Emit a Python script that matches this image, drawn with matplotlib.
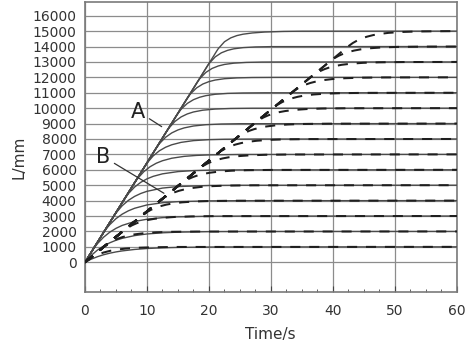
import matplotlib
matplotlib.use("Agg")
import matplotlib.pyplot as plt
import numpy as np
from matplotlib.ticker import MultipleLocator

plt.rcParams['font.family'] = ['DejaVu Sans']

# curve A (solid): (time s, length mm), one list per target length
solid_1000 = [(0, 0), (1, 199), (2, 359), (3, 487), (4, 589), (5, 671), (6, 736), (8, 831), (10, 892),
              (12.5, 938), (15, 964), (20, 988), (25, 996), (60, 1000)]
solid_2000 = [(0, 0), (1, 442), (2, 787), (3, 1055), (4, 1264), (5, 1427), (6, 1554), (8, 1729), (10, 1836),
              (12.5, 1912), (15, 1953), (20, 1987), (25, 1996), (60, 2000)]
solid_3000 = [(0, 0), (0.95, 613), (1.5, 943), (2, 1203), (3, 1628), (4, 1952), (5, 2201), (6, 2391),
              (8, 2645), (10, 2793), (12.5, 2895), (15, 2947), (20, 2986), (25, 2996), (60, 3000)]
solid_4000 = [(0, 0), (2.7, 1742), (3.5, 2203), (4, 2442), (5, 2830), (6, 3121), (7, 3339), (8, 3503),
              (10, 3720), (12.5, 3863), (15, 3933), (20, 3984), (25, 3996), (60, 4000)]
solid_5000 = [(0, 0), (4.45, 2871), (5, 3199), (6, 3669), (7, 4017), (8, 4274), (9, 4464), (10, 4604),
              (12.5, 4814), (15, 4913), (20, 4981), (25, 4996), (60, 5000)]
solid_6000 = [(0, 0), (6.2, 4000), (7, 4455), (8, 4881), (9, 5189), (10, 5413), (11, 5575), (12.5, 5738),
              (15, 5883), (17.5, 5948), (20, 5977), (25, 5995), (60, 6000)]
solid_7000 = [(0, 0), (7.85, 5065), (8.5, 5442), (9.5, 5883), (10.5, 6200), (11.5, 6427), (12.5, 6589),
              (14, 6751), (16, 6872), (18, 6934), (20, 6966), (25, 6994), (60, 7000)]
solid_8000 = [(0, 0), (9.6, 6194), (10, 6434), (11, 6904), (12, 7234), (13, 7464), (14, 7625), (15.5, 7780),
              (17.5, 7893), (20, 7956), (22.5, 7982), (27.5, 7997), (60, 8000)]
solid_9000 = [(0, 0), (11.35, 7323), (12, 7694), (13, 8111), (14, 8395), (15, 8588), (16, 8719),
              (17.5, 8842), (19.5, 8927), (22, 8972), (25, 8991), (60, 9000)]
solid_10000 = [(0, 0), (13.1, 8452), (13.5, 8690), (14.5, 9136), (15.5, 9431), (16.5, 9625), (17.5, 9753),
               (19, 9868), (21, 9942), (23.5, 9980), (27, 9995), (60, 10000)]
solid_11000 = [(0, 0), (14.75, 9516), (15.5, 9929), (16.5, 10307), (17.5, 10551), (18.5, 10709),
               (19.5, 10812), (21, 10902), (23, 10959), (25.5, 10986), (29, 10997), (60, 11000)]
solid_12000 = [(0, 0), (16.4, 10581), (17, 10920), (18, 11314), (19, 11565), (20, 11724), (21, 11825),
               (22.5, 11911), (24.5, 11964), (27, 11989), (31, 11998), (60, 12000)]
solid_13000 = [(0, 0), (18.05, 11645), (18.5, 11906), (19.5, 12321), (20.5, 12578), (21.5, 12738),
               (22.5, 12837), (24, 12920), (26, 12969), (28.5, 12991), (32, 12998), (60, 13000)]
solid_14000 = [(0, 0), (19.7, 12710), (20, 12890), (21, 13327), (22, 13592), (23, 13752), (24, 13850),
               (25.5, 13929), (27.5, 13974), (30, 13993), (60, 14000)]
solid_15000 = [(0, 0), (21.25, 13710), (21.5, 13862), (22.5, 14310), (23.5, 14560), (24.5, 14710),
               (25.5, 14800), (27, 14880), (29, 14940), (32, 14980), (35, 14995), (60, 15000)]

# curve B (dashed)
dash_1000 = [(0, 0), (0.75, 221), (1.5, 393), (2.25, 528), (3, 632), (4, 736), (5, 811), (6.5, 885),
             (8.5, 941), (11, 974), (15, 993), (60, 1000)]
dash_2000 = [(0, 0), (3.06, 1010), (3.81, 1229), (4.56, 1399), (5.31, 1533), (6.06, 1636), (7.06, 1739),
             (8.06, 1813), (9.56, 1886), (11.56, 1942), (14.06, 1975), (18.06, 1993), (60, 2000)]
dash_3000 = [(0, 0), (6.09, 2010), (6.84, 2229), (7.59, 2399), (8.34, 2533), (9.09, 2636), (10.09, 2739),
             (11.09, 2813), (12.59, 2886), (14.59, 2942), (17.09, 2975), (21.09, 2993), (60, 3000)]
dash_4000 = [(0, 0), (9.12, 3010), (9.87, 3229), (10.62, 3399), (11.37, 3533), (12.12, 3636), (13.12, 3739),
             (14.12, 3813), (15.62, 3886), (17.62, 3942), (20.12, 3975), (24.12, 3993), (60, 4000)]
dash_5000 = [(0, 0), (12.15, 4010), (12.9, 4229), (13.65, 4399), (14.4, 4533), (15.15, 4636), (16.15, 4739),
             (17.15, 4813), (18.65, 4886), (20.65, 4942), (23.15, 4975), (27.15, 4993), (60, 5000)]
dash_6000 = [(0, 0), (15.18, 5010), (15.93, 5229), (16.68, 5399), (17.43, 5533), (18.18, 5636), (19.18, 5739),
             (20.18, 5813), (21.68, 5886), (23.68, 5942), (26.18, 5975), (30.18, 5993), (60, 6000)]
dash_7000 = [(0, 0), (18.21, 6010), (18.96, 6229), (19.71, 6399), (20.46, 6533), (21.21, 6636), (22.21, 6739),
             (23.21, 6813), (24.71, 6886), (26.71, 6942), (29.21, 6975), (33.21, 6993), (60, 7000)]
dash_8000 = [(0, 0), (21.24, 7010), (21.99, 7229), (22.74, 7399), (23.49, 7533), (24.24, 7636), (25.24, 7739),
             (26.24, 7813), (27.74, 7886), (29.74, 7942), (32.24, 7975), (36.24, 7993), (60, 8000)]
dash_9000 = [(0, 0), (24.27, 8010), (25.02, 8229), (25.77, 8399), (26.52, 8533), (27.27, 8636), (28.27, 8739),
             (29.27, 8813), (30.77, 8886), (32.77, 8942), (35.27, 8975), (39.27, 8993), (60, 9000)]
dash_10000 = [(0, 0), (27.3, 9010), (28.05, 9229), (28.8, 9399), (29.55, 9533), (30.3, 9636), (31.3, 9739),
              (32.3, 9813), (33.8, 9886), (35.8, 9942), (38.3, 9975), (42.3, 9993), (60, 10000)]
dash_11000 = [(0, 0), (30.33, 10010), (31.08, 10229), (31.83, 10399), (32.58, 10533), (33.33, 10636),
              (34.33, 10739), (35.33, 10813), (36.83, 10886), (38.83, 10942), (41.33, 10975), (45.33, 10993),
              (60, 11000)]
dash_12000 = [(0, 0), (33.36, 11010), (34.11, 11229), (34.86, 11399), (35.61, 11533), (36.36, 11636),
              (37.36, 11739), (38.36, 11813), (39.86, 11886), (41.86, 11942), (44.36, 11975), (48.36, 11993),
              (60, 12000)]
dash_13000 = [(0, 0), (36.39, 12010), (37.14, 12229), (37.89, 12399), (38.64, 12533), (39.39, 12636),
              (40.39, 12739), (41.39, 12813), (42.89, 12886), (44.89, 12942), (47.39, 12975), (51.39, 12993),
              (60, 13000)]
dash_14000 = [(0, 0), (39.42, 13010), (40.17, 13229), (40.92, 13399), (41.67, 13533), (42.42, 13636),
              (43.42, 13739), (44.42, 13813), (45.92, 13886), (47.92, 13942), (50.42, 13975), (54.42, 13993),
              (60, 14000)]
dash_15000 = [(0, 0), (42.45, 14010), (43.2, 14229), (43.95, 14399), (44.7, 14533), (45.45, 14636),
              (46.45, 14739), (47.45, 14813), (48.95, 14886), (50.95, 14942), (53.45, 14975), (57.45, 14993),
              (60, 15000)]

solid_curves = [solid_1000, solid_2000, solid_3000, solid_4000, solid_5000, solid_6000, solid_7000,
                solid_8000, solid_9000, solid_10000, solid_11000, solid_12000, solid_13000, solid_14000,
                solid_15000]
dashed_curves = [dash_1000, dash_2000, dash_3000, dash_4000, dash_5000, dash_6000, dash_7000, dash_8000,
                 dash_9000, dash_10000, dash_11000, dash_12000, dash_13000, dash_14000, dash_15000]

x_ticks = [0, 10, 20, 30, 40, 50, 60]
y_ticks = list(range(0, 16001, 1000))

fig = plt.figure(figsize=(4.74, 3.43), dpi=100)
ax = fig.add_axes([0.1793, 0.1487, 0.7848, 0.8464])

for pts in solid_curves:
    arr = np.array(pts)
    ax.plot(arr[:, 0], arr[:, 1], color="#4a4a4a", lw=1.0, zorder=3)

for pts in dashed_curves:
    arr = np.array(pts)
    ax.plot(arr[:, 0], arr[:, 1], color="#1e1e1e", lw=1.45, dashes=(5.0, 4.4), zorder=4)

ax.set_xlim(0, 60)
ax.set_ylim(-1930, 16910)
ax.set_xticks(x_ticks)
ax.set_yticks(y_ticks)
ax.xaxis.set_minor_locator(MultipleLocator(2.5))
ax.grid(True, which="major", color="#8c8c8c", lw=0.9, zorder=1)

ax.tick_params(axis="x", which="major", direction="in", length=4, color="#444444",
               labelsize=10, labelcolor="#333333", pad=9)
ax.tick_params(axis="x", which="minor", direction="in", length=2.5, color="#444444")
ax.tick_params(axis="y", which="major", direction="in", length=0, labelsize=10,
               labelcolor="#333333", pad=6)

for s in ax.spines.values():
    s.set_color("#7a7a7a")
    s.set_linewidth(1.2)

ax.set_xlabel("Time/s", fontsize=11, color="#333333")
ax.xaxis.set_label_coords(0.497, -0.12)
ax.set_ylabel("L/mm", fontsize=11, color="#333333")
ax.yaxis.set_label_coords(-0.158, 0.465)

ax.annotate("A", xy=(12.37, 8800), xytext=(8.6, 9773), fontsize=15, color="#222222",
            ha="center", va="center",
            arrowprops=dict(arrowstyle="-", color="#333333", lw=0.9, shrinkA=1, shrinkB=0))
ax.annotate("B", xy=(12.73, 4478), xytext=(2.95, 6853), fontsize=15, color="#222222",
            ha="center", va="center",
            arrowprops=dict(arrowstyle="-", color="#333333", lw=0.9, shrinkA=1, shrinkB=0))

fig.savefig("out.png", dpi=100)
